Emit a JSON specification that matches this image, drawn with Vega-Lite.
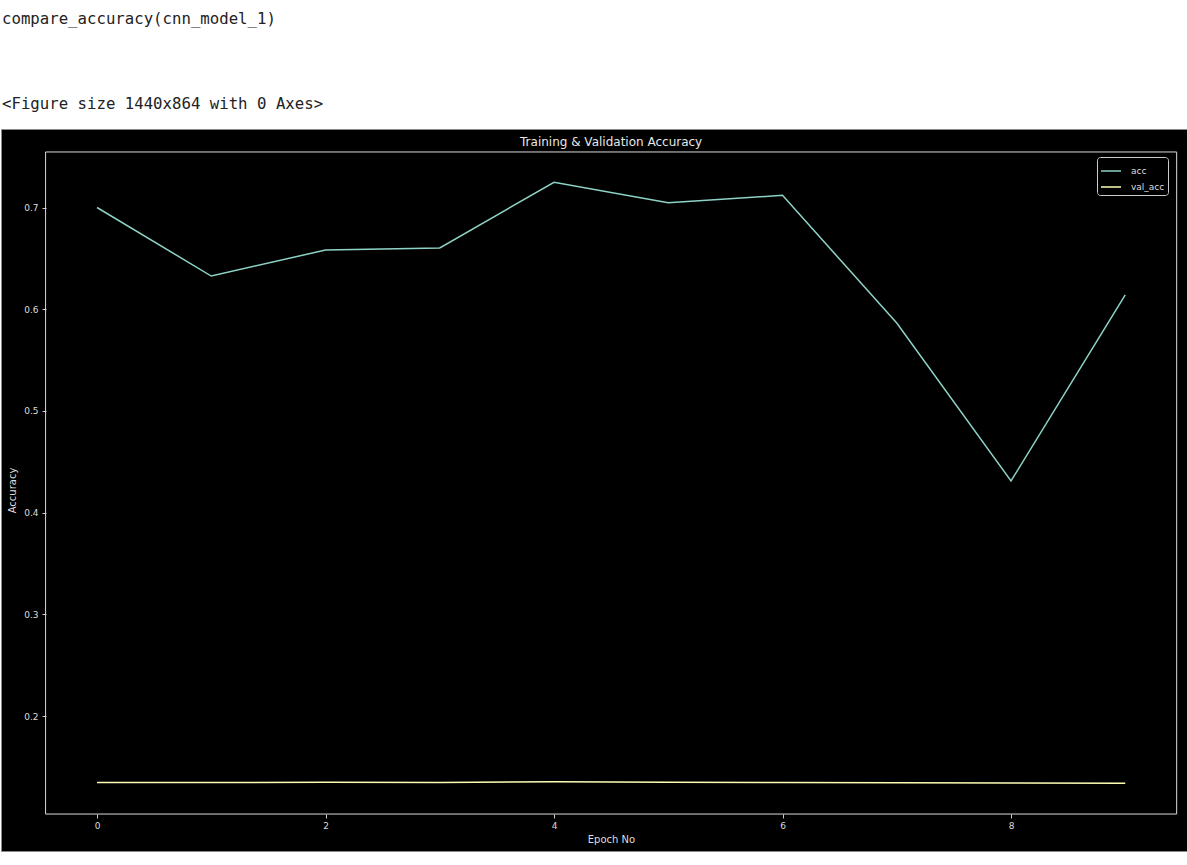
{
  "$schema": "https://vega.github.io/schema/vega-lite/v6.json",
  "background": "white",
  "padding": {"left": 1, "top": 10, "right": 0, "bottom": 14},
  "width": 1186,
  "height": 722,
  "title": {
    "text": "compare_accuracy(cnn_model_1)",
    "subtitle": "<Figure size 1440x864 with 0 Axes>",
    "anchor": "start",
    "frame": "group",
    "font": "DejaVu Sans Mono",
    "fontSize": 15.7,
    "fontWeight": "normal",
    "color": "#222222",
    "subtitleFont": "DejaVu Sans Mono",
    "subtitleFontSize": 15.7,
    "subtitleColor": "#222222",
    "subtitlePadding": 70,
    "offset": 16,
    "dx": 1
  },
  "config": {
    "font": "DejaVu Sans",
    "view": {"fill": "black", "stroke": "#8a8a8a", "strokeWidth": 1}
  },
  "layer": [
    {
      "data": {
        "values": [
          {"epoch": 0, "metric": "acc", "value": 0.700},
          {"epoch": 1, "metric": "acc", "value": 0.6326},
          {"epoch": 2, "metric": "acc", "value": 0.6582},
          {"epoch": 3, "metric": "acc", "value": 0.6602},
          {"epoch": 4, "metric": "acc", "value": 0.7248},
          {"epoch": 5, "metric": "acc", "value": 0.7047},
          {"epoch": 6, "metric": "acc", "value": 0.7120},
          {"epoch": 7, "metric": "acc", "value": 0.5864},
          {"epoch": 8, "metric": "acc", "value": 0.4311},
          {"epoch": 9, "metric": "acc", "value": 0.6140},
          {"epoch": 0, "metric": "val_acc", "value": 0.1346},
          {"epoch": 1, "metric": "val_acc", "value": 0.1346},
          {"epoch": 2, "metric": "val_acc", "value": 0.1348},
          {"epoch": 3, "metric": "val_acc", "value": 0.1347},
          {"epoch": 4, "metric": "val_acc", "value": 0.1354},
          {"epoch": 5, "metric": "val_acc", "value": 0.1349},
          {"epoch": 6, "metric": "val_acc", "value": 0.1346},
          {"epoch": 7, "metric": "val_acc", "value": 0.1344},
          {"epoch": 8, "metric": "val_acc", "value": 0.1341},
          {"epoch": 9, "metric": "val_acc", "value": 0.1340}
        ]
      },
      "mark": {"type": "line", "strokeWidth": 1.5},
      "encoding": {
        "x": {
          "field": "epoch",
          "type": "quantitative",
          "scale": {"domain": [-0.8403, 9.5405], "nice": false, "zero": false},
          "axis": {
            "title": "Epoch No",
            "offset": -37,
            "domain": false,
            "grid": false,
            "values": [0, 2, 4, 6, 8],
            "format": "d",
            "tickColor": "#cccccc",
            "tickSize": 4,
            "labelColor": "#dddddd",
            "labelFont": "DejaVu Sans",
            "labelFontSize": 9,
            "labelPadding": 3,
            "titleColor": "#dddddd",
            "titleFont": "DejaVu Sans",
            "titleFontSize": 10,
            "titleFontWeight": "normal",
            "titlePadding": 4,
            "titleX": 610
          }
        },
        "y": {
          "field": "value",
          "type": "quantitative",
          "scale": {"domain": [0.06726, 0.77719], "nice": false, "zero": false},
          "axis": {
            "title": "Accuracy",
            "offset": -45,
            "domain": false,
            "grid": false,
            "values": [0.2, 0.3, 0.4, 0.5, 0.6, 0.7],
            "format": ".1f",
            "tickColor": "#cccccc",
            "tickSize": 4,
            "labelColor": "#dddddd",
            "labelFont": "DejaVu Sans",
            "labelFontSize": 9,
            "labelPadding": 4,
            "titleColor": "#dddddd",
            "titleFont": "DejaVu Sans",
            "titleFontSize": 10,
            "titleFontWeight": "normal",
            "titlePadding": 6
          }
        },
        "color": {
          "field": "metric",
          "type": "nominal",
          "scale": {"domain": ["acc", "val_acc"], "range": ["#8dd3c7", "#feffb3"]},
          "legend": {
            "title": null,
            "orient": "none",
            "legendX": 1096,
            "legendY": 28,
            "fillColor": "#000000",
            "strokeColor": "#cccccc",
            "cornerRadius": 3,
            "padding": 3,
            "symbolType": "stroke",
            "symbolSize": 400,
            "symbolStrokeWidth": 1.5,
            "labelColor": "#dddddd",
            "labelFont": "DejaVu Sans",
            "labelFontSize": 9,
            "labelOffset": 9,
            "rowPadding": -5
          }
        }
      }
    },
    {
      "data": {"values": [{"title": "Training & Validation Accuracy"}]},
      "mark": {"type": "rect", "fillOpacity": 0, "stroke": "#d9d9d9", "strokeWidth": 1},
      "encoding": {
        "x": {"datum": -0.45},
        "x2": {"datum": 9.45},
        "y": {"datum": 0.1036},
        "y2": {"datum": 0.7546}
      }
    },
    {
      "data": {"values": [{"title": "Training & Validation Accuracy"}]},
      "mark": {"type": "text", "fontSize": 12, "color": "#e6e6e6", "font": "DejaVu Sans", "baseline": "alphabetic", "align": "center", "dy": -6},
      "encoding": {
        "x": {"datum": 4.5},
        "y": {"datum": 0.7546},
        "text": {"field": "title", "type": "nominal"}
      }
    }
  ]
}
